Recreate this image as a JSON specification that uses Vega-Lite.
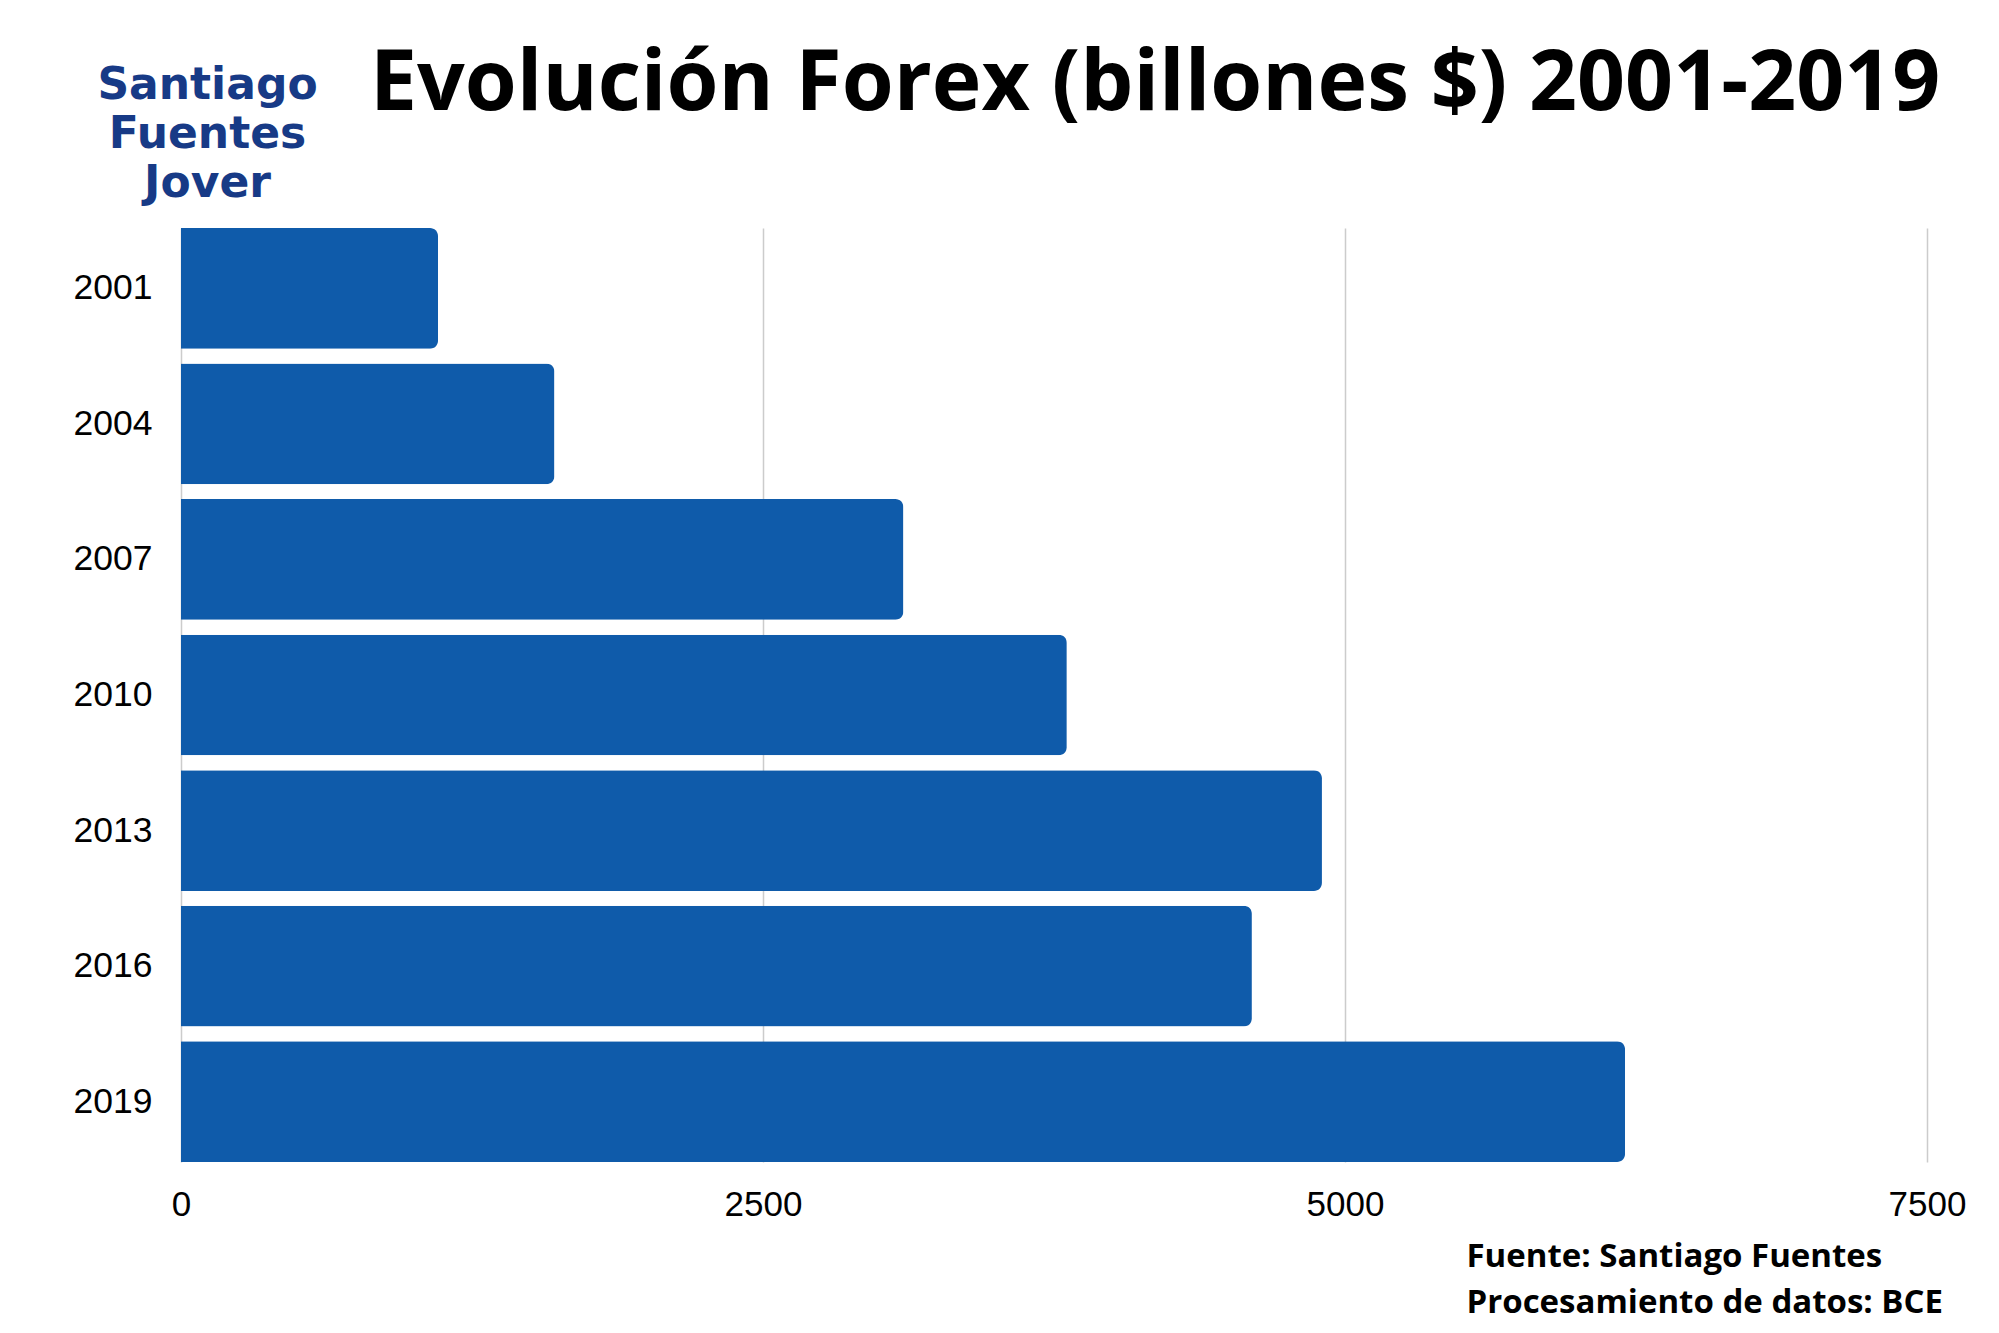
{
  "$schema": "https://vega.github.io/schema/vega-lite/v6.json",
  "width": 1746,
  "height": 934,
  "autosize": {"type": "none"},
  "padding": {"left": 181, "top": 228, "right": 72, "bottom": 171},
  "background": "white",
  "title": {
    "text": "Evolución Forex (billones $) 2001-2019",
    "anchor": "start",
    "frame": "group",
    "dx": 189,
    "font": "Open Sans",
    "fontWeight": "bold",
    "fontSize": 84,
    "color": "#000000",
    "baseline": "alphabetic",
    "offset": -131
  },
  "data": {
    "values": [
      {"year": "2001", "value": 1104},
      {"year": "2004", "value": 1604},
      {"year": "2007", "value": 3103},
      {"year": "2010", "value": 3805},
      {"year": "2013", "value": 4901},
      {"year": "2016", "value": 4600},
      {"year": "2019", "value": 6203}
    ]
  },
  "mark": {"type": "bar", "color": "#0F5BAA", "cornerRadiusEnd": 8},
  "encoding": {
    "y": {
      "field": "year",
      "type": "nominal",
      "scale": {"paddingInner": 0.11, "paddingOuter": 0},
      "axis": {
        "title": ["Santiago", "Fuentes", "Jover"],
        "titleAngle": 0,
        "titleAlign": "center",
        "titleBaseline": "alphabetic",
        "titleX": 26,
        "titleY": -130,
        "titleFont": "DejaVu Sans",
        "titleFontWeight": "bold",
        "titleFontSize": 44,
        "titleLineHeight": 49,
        "titleColor": "#173A86",
        "domain": false,
        "ticks": false,
        "tickSize": 0,
        "grid": false,
        "labelPadding": 29,
        "labelFont": "Liberation Sans",
        "labelFontSize": 35.5,
        "labelColor": "#000000"
      }
    },
    "x": {
      "field": "value",
      "type": "quantitative",
      "scale": {"domain": [0, 7500], "nice": false},
      "axis": {
        "values": [0, 2500, 5000, 7500],
        "format": "d",
        "title": ["Fuente: Santiago Fuentes", "Procesamiento de datos: BCE"],
        "titleAnchor": "start",
        "titleAlign": "left",
        "titleBaseline": "alphabetic",
        "titleX": 1285,
        "titleY": 104,
        "titleFont": "Open Sans",
        "titleFontWeight": "bold",
        "titleFontSize": 33,
        "titleLineHeight": 46,
        "titleColor": "#000000",
        "domain": false,
        "ticks": false,
        "tickSize": 0,
        "grid": true,
        "gridColor": "#cccccc",
        "gridWidth": 1.5,
        "labelPadding": 25,
        "labelFont": "Liberation Sans",
        "labelFontSize": 35,
        "labelColor": "#000000",
        "labelFlush": false
      }
    }
  },
  "config": {"view": {"stroke": null}}
}
